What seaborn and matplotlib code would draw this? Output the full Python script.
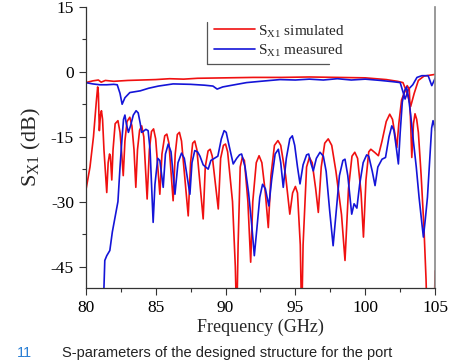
import numpy as np
import pandas as pd
import seaborn as sns
import matplotlib.pyplot as plt
from matplotlib.ticker import MultipleLocator

# simulated, through path (red, top)
sim_thru_f = [80.0, 80.5, 80.9, 81.1, 81.4, 82.0, 83.0, 84.0, 85.0, 86.0, 87.0, 88.0, 90.0,
              92.0, 94.0, 96.0, 98.0, 100.0, 101.5, 102.3, 102.7, 103.0, 103.25, 103.5,
              103.8, 104.2, 104.6, 105.0]
sim_thru_db = [-2.5, -2.1, -1.9, -2.4, -2.0, -2.2, -2.0, -1.9, -1.8, -1.6, -1.7, -1.5, -1.4,
               -1.3, -1.3, -1.2, -1.3, -1.4, -1.8, -2.2, -2.5, -5.0, -8.0, -5.0,
               -2.0, -1.0, -0.8, -0.6]

# simulated, reflection (red, rippled)
sim_refl_f = [80.0, 80.3, 80.55, 80.75, 80.85, 80.9, 80.97, 81.05, 81.12, 81.2, 81.3, 81.5,
              81.6, 81.7, 81.76, 81.86, 81.95, 82.1, 82.3, 82.45, 82.55, 82.68, 82.8, 82.95,
              83.15, 83.3, 83.45, 83.58, 83.7, 83.85, 84.0, 84.15, 84.39, 84.55, 84.7, 84.85,
              85.0, 85.3, 85.45, 85.65, 85.8, 85.95, 86.25, 86.4, 86.55, 86.7, 86.85, 87.33,
              87.5, 87.65, 87.8, 87.95, 88.4, 88.55, 88.75, 88.9, 89.05, 89.48, 89.65, 89.85,
              90.0, 90.15, 90.5, 90.7, 90.8, 90.9, 91.05, 91.2, 91.35, 91.6, 91.8, 91.95,
              92.2, 92.4, 92.6, 92.85, 93.06, 93.25, 93.5, 93.75, 93.95, 94.3, 94.6, 94.8,
              95.0, 95.15, 95.35, 95.45, 95.55, 95.8, 96.0, 96.2, 96.45, 96.64, 96.85, 97.1,
              97.35, 97.6, 97.9, 98.3, 98.55, 98.8, 99.05, 99.25, 99.45, 99.7, 99.87, 100.05,
              100.25, 100.4, 100.7, 100.94, 101.2, 101.5, 101.75, 101.95, 102.15, 102.26,
              102.4, 102.6, 102.8, 103.0, 103.15, 103.25, 103.33, 103.45, 103.56, 103.68,
              103.8, 104.0, 104.2, 104.35, 104.45, 104.9, 105.0]
sim_refl_db = [-27.5, -22.0, -15.0, -7.0, -3.5, -5.0, -13.6, -10.0, -9.0, -11.0, -18.0, -27.9,
               -21.0, -19.0, -19.5, -25.0, -18.0, -12.0, -11.3, -14.0, -18.0, -24.0, -16.0, -11.5,
               -10.5, -12.5, -18.0, -26.7, -18.0, -13.5, -12.5, -15.0, -29.4, -18.0, -13.8, -13.2,
               -15.5, -28.3, -19.0, -14.8, -14.4, -16.5, -29.8, -19.0, -14.5, -14.0, -16.0, -33.3,
               -21.0, -16.5, -16.0, -18.0, -34.0, -22.0, -18.3, -17.9, -19.5, -31.7, -20.0, -17.0,
               -16.7, -18.5, -30.0, -45.0, -58.0, -40.0, -22.0, -19.8, -20.5, -30.0, -44.0, -30.0,
               -21.0, -19.4, -21.0, -28.0, -36.0, -24.0, -17.0, -15.9, -17.0, -24.0, -32.9, -28.0,
               -26.5, -28.0, -40.0, -58.0, -40.0, -22.0, -19.8, -21.0, -27.0, -32.5, -22.0, -16.5,
               -15.5, -17.0, -23.0, -33.0, -43.6, -27.0, -19.5, -18.6, -20.0, -28.0, -38.2, -25.0,
               -18.5, -17.9, -18.7, -19.4, -16.0, -11.5, -9.8, -11.0, -15.0, -17.5,
               -12.0, -6.5, -4.8, -3.2, -4.0, -12.0, -19.8, -12.0, -9.7, -11.0,
               -14.0, -24.0, -36.0, -48.0, -60.0, -60.0, -46.0]

# measured, through path (blue, top)
meas_thru_f = [80.0, 80.5, 81.0, 81.5, 82.0, 82.25, 82.45, 82.6, 82.8, 83.15, 83.9, 84.5,
               85.2, 86.25, 87.5, 88.5, 89.1, 89.4, 89.8, 90.3, 91.5, 92.5, 93.9, 95.0,
               96.0, 97.0, 98.0, 99.0, 100.0, 101.1, 102.0, 102.5, 102.85, 103.1, 103.4,
               103.7, 104.05, 104.5, 104.76, 105.0]
meas_thru_db = [-2.5, -2.8, -3.0, -3.0, -2.9, -3.0, -5.0, -7.5, -6.0, -4.8, -4.4, -3.8,
                -3.3, -2.8, -2.9, -3.1, -3.3, -4.0, -3.5, -3.2, -2.5, -2.2, -1.8, -1.9,
                -1.7, -1.9, -1.6, -1.9, -1.7, -2.0, -2.3, -2.5, -6.3, -4.0, -3.0,
                -1.3, -0.9, -0.9, -3.2, -1.5]

# measured, reflection (blue, rippled)
meas_refl_f = [81.2, 81.3, 81.36, 81.5, 81.72, 81.9, 82.1, 82.3, 82.45, 82.6, 82.7, 82.8,
               82.9, 83.05, 83.2, 83.4, 83.6, 83.75, 83.9, 83.99, 84.1, 84.3, 84.46, 84.6,
               84.82, 84.95, 85.15, 85.3, 85.54, 85.7, 85.9, 86.1, 86.38, 86.6, 86.85, 87.05,
               87.45, 87.6, 87.8, 88.0, 88.17, 88.4, 88.76, 88.95, 89.2, 89.45, 89.7, 89.9,
               90.05, 90.25, 90.55, 90.8, 91.0, 91.15, 91.4, 91.65, 91.87, 92.06, 92.25, 92.45,
               92.65, 92.85, 93.1, 93.3, 93.55, 93.78, 93.95, 94.13, 94.35, 94.6, 94.78, 94.95,
               95.15, 95.33, 95.55, 95.8, 95.95, 96.1, 96.28, 96.5, 96.76, 97.0, 97.2, 97.45,
               97.7, 97.9, 98.15, 98.4, 98.55, 98.75, 99.03, 99.2, 99.4, 99.6, 99.85, 100.1,
               100.25, 100.5, 100.7, 100.9, 101.2, 101.45, 101.7, 101.9, 102.05, 102.2, 102.37,
               102.5, 102.65, 102.8, 102.95, 103.1, 103.25, 103.44, 103.65, 103.85, 104.05,
               104.16, 104.3, 104.45, 104.6, 104.75, 104.85, 104.95, 105.0]
meas_refl_db = [-54.0, -49.8, -43.6, -42.5, -41.3, -37.0, -33.5, -30.0, -22.0, -15.0, -11.0, -10.0,
                -12.0, -14.0, -12.5, -10.0, -9.0, -9.5, -12.0, -14.0, -13.8, -13.3, -13.6, -18.0,
                -34.8, -26.0, -20.0, -20.5, -26.7, -19.0, -16.7, -18.5, -28.3, -21.0, -18.8, -20.0,
                -28.3, -21.0, -18.2, -18.5, -19.5, -21.5, -22.5, -20.5, -20.0, -19.5, -15.5, -13.6,
                -14.0, -17.0, -21.3, -20.0, -19.2, -19.0, -22.0, -28.0, -35.2, -42.5, -36.0, -29.0,
                -26.0, -27.0, -31.0, -25.0, -19.0, -17.9, -21.0, -26.7, -20.0, -15.5, -14.8, -17.0,
                -22.0, -25.9, -21.5, -19.2, -19.0, -21.0, -22.9, -20.0, -18.6, -19.5, -23.0, -32.0,
                -40.2, -33.0, -24.0, -20.5, -20.2, -24.0, -32.9, -30.5, -31.5, -26.0, -21.0, -19.2,
                -19.5, -23.0, -26.3, -22.0, -20.2, -19.8, -15.0, -12.5, -13.5, -17.0, -21.3,
                -14.0, -7.0, -4.5, -3.5, -6.0, -10.0, -15.9, -22.0, -29.0, -35.0,
                -38.2, -34.0, -29.0, -21.0, -13.0, -11.3, -12.5, -13.6]

sns.set_style("ticks")
plt.rcParams['font.family'] = ['Liberation Serif', 'DejaVu Serif']
plt.rcParams['mathtext.fontset'] = 'custom'
plt.rcParams['mathtext.rm'] = 'Liberation Serif'

red = '#f01010'
blue = '#1414d8'

fig = plt.figure(figsize=(4.74, 3.62), dpi=100)
ax = fig.add_axes([0.181, 0.204, 0.737, 0.777])

sns.lineplot(x=sim_thru_f, y=sim_thru_db, ax=ax, color=red, lw=1.2,
             label=r'S$_{\rm X1}$ simulated', estimator=None)
sns.lineplot(x=meas_thru_f, y=meas_thru_db, ax=ax, color=blue, lw=1.2,
             label=r'S$_{\rm X1}$ measured', estimator=None)
sns.lineplot(x=sim_refl_f, y=sim_refl_db, ax=ax, color=red, lw=1.2, estimator=None)
sns.lineplot(x=meas_refl_f, y=meas_refl_db, ax=ax, color=blue, lw=1.2, estimator=None)

ax.set_xlim(80, 105)
ax.set_ylim(-50, 15)
ax.xaxis.set_major_locator(MultipleLocator(5))
ax.xaxis.set_minor_locator(MultipleLocator(2.5))
ax.yaxis.set_minor_locator(MultipleLocator(7.5))
ax.set_yticks([15, 0, -15, -30, -45])
ax.set_yticklabels(['15', '0', '-15', '-30', '-45'])
ax.tick_params(which='major', length=5, width=0.8, labelsize=12.5, direction='out',
               colors='#333333', labelcolor='black')
ax.tick_params(which='minor', length=3, width=0.8, direction='out', colors='#333333')

ax.spines['top'].set_visible(False)
for s in ['left', 'bottom']:
    ax.spines[s].set_color('#333333')
    ax.spines[s].set_linewidth(0.9)
ax.spines['right'].set_color('#888888')
ax.spines['right'].set_linewidth(1.2)

ax.set_xlabel('Frequency (GHz)', fontsize=13, labelpad=2)
ax.set_ylabel(r'S$_{\rm X1}$ (dB)', fontsize=16, labelpad=6)

leg = ax.legend(loc='upper left', bbox_to_anchor=(0.35, 0.965), frameon=False,
                fontsize=11, handlelength=2.7, handletextpad=0.2, labelspacing=0.2,
                borderaxespad=0)
# partial legend frame (left and bottom edges only)
ax.plot([0.347, 0.347], [0.797, 0.945], transform=ax.transAxes, color='#555555', lw=0.9,
        clip_on=False)
ax.plot([0.347, 0.695], [0.797, 0.797], transform=ax.transAxes, color='#555555', lw=0.9,
        clip_on=False)

# caption line under the chart
fig.text(0.036, 0.006, '11', color='#2a7fd4', fontsize=10.5, family='Liberation Sans',
         va='bottom')
fig.text(0.131, 0.006, 'S-parameters of the designed structure for the port',
         color='#222222', fontsize=10.5, family='Liberation Sans', va='bottom')

fig.savefig('out.png', dpi=100)
